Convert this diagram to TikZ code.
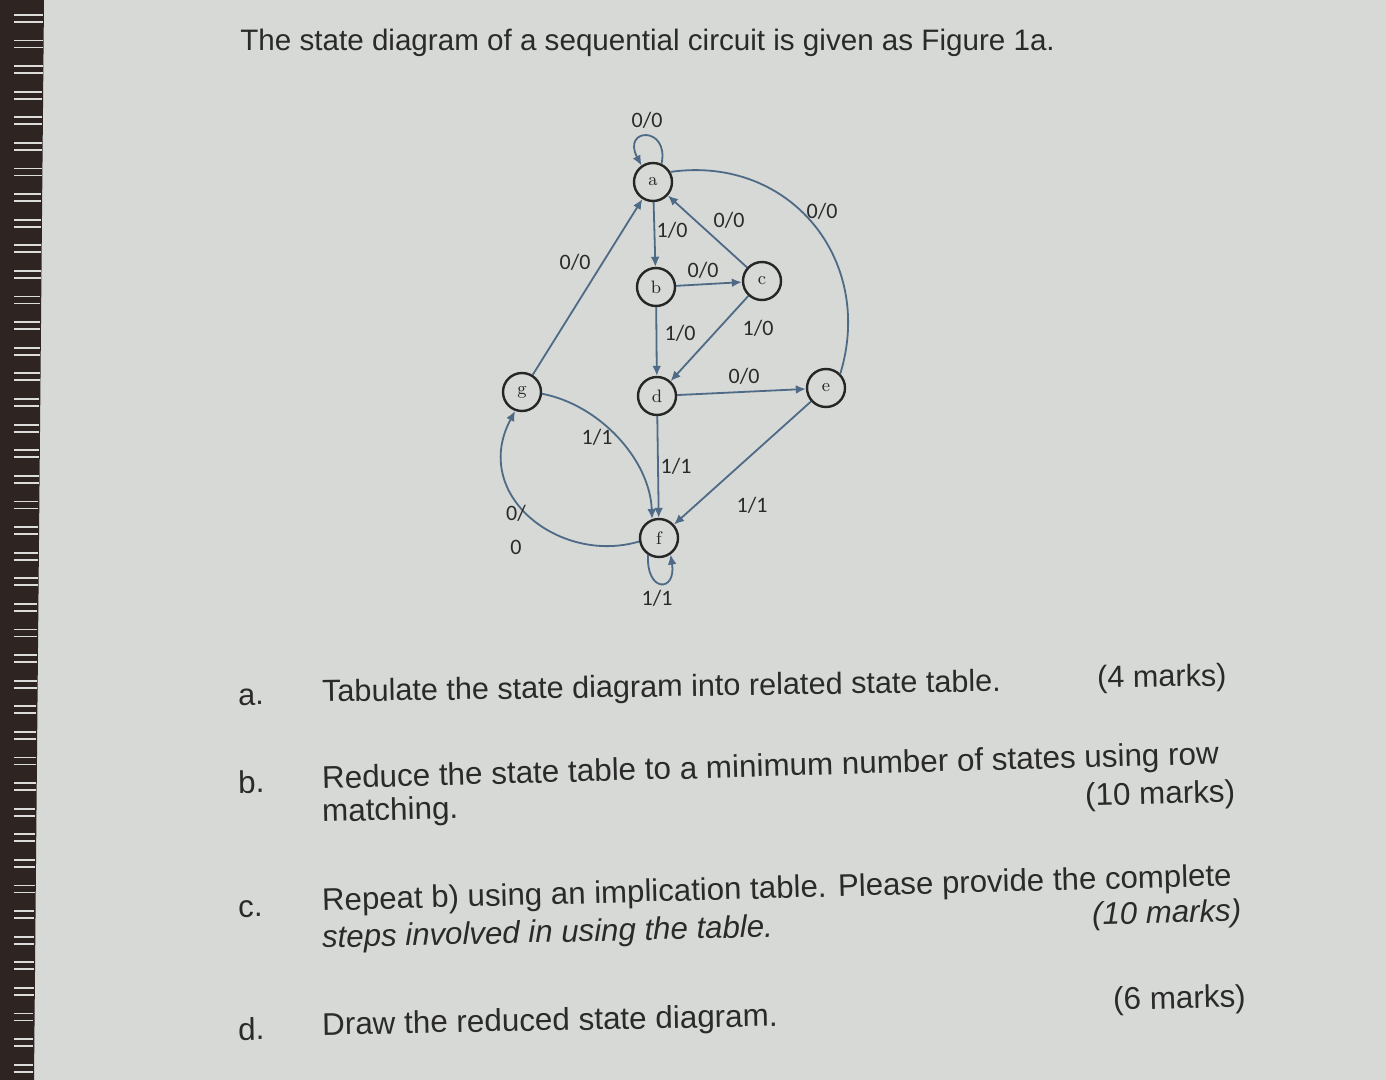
\documentclass[tikz,border=0pt]{standalone}
\usepackage{fontspec}
\usetikzlibrary{arrows.meta}
\newfontfamily\arialf{Liberation Sans}
\newfontfamily\carl{Carlito}
\definecolor{paper}{HTML}{D6D9D5}
\definecolor{bindc}{HTML}{2E2422}
\definecolor{ringc}{HTML}{DCDCDA}
\definecolor{linec}{HTML}{4E6A86}
\definecolor{circc}{HTML}{262626}
\definecolor{txtc}{HTML}{2A2A2A}
\tikzset{
  st/.style={circle,draw=circc,line width=1.2pt,minimum size=19pt,inner sep=0pt,
    font=\fontsize{9}{9}\selectfont,text=circc},
  tr/.style={draw=linec,line width=0.9pt,-{Latex[length=5pt,width=4.4pt]}},
  trn/.style={draw=linec,line width=0.9pt},
  lab/.style={font=\carl\fontsize{11}{13}\selectfont,text=txtc,inner sep=0pt},
  ttl/.style={font=\arialf\fontsize{14.8}{17}\selectfont,text=txtc,anchor=base west,inner sep=0pt},
  itm/.style={font=\arialf\fontsize{15.3}{18}\selectfont,text=txtc,anchor=base west,inner sep=0pt},
  itmb/.style={itm,font=\arialf\fontsize{15.7}{18}\selectfont},
  itmc/.style={itm,font=\arialf\fontsize{15.6}{18}\selectfont},
  itmi/.style={itm,font=\arialf\itshape\fontsize{15.6}{18}\selectfont},
}
\begin{document}
\begin{tikzpicture}[x=0.5pt,y=0.5pt]
\useasboundingbox (0,0) rectangle (1386,-1080);
\fill[paper] (0,0) rectangle (1386,-1080);
% binding
\fill[bindc] (0,0) -- (44,0) -- (34,-1080) -- (0,-1080) -- cycle;
\foreach \k in {0,...,41}{
  \pgfmathsetmacro{\yy}{-15-25.6*\k}
  \pgfmathsetmacro{\xe}{43-0.25*\k}
  \draw[ringc,line width=0.9pt] (14,\yy) -- (\xe,\yy);
  \draw[ringc,line width=0.9pt] (14,\yy-7) -- (\xe,\yy-7);
}
% title
\node[ttl] (title) at (240,-51) {The state diagram of a sequential circuit is given as Figure 1a.};
% states
\node[st] (a) at (653,-182) {a};
\node[st] (b) at (656,-287) {b};
\node[st] (c) at (762,-281) {c};
\node[st] (d) at (657,-396) {d};
\node[st] (e) at (826,-388) {e};
\node[st] (g) at (522,-392) {g};
\node[st] (f) at (659,-538) {f};
% transitions
\draw[tr] (a.65) .. controls +(8,38) and +(-20,38) .. (a.125);
\draw[tr] (g) -- (a);
\draw[tr] (a) -- (b);
\draw[tr] (c) -- (a);
\draw[trn] (a.30) .. controls (790,-155) and (875,-260) .. (e.45);
\draw[tr] (b) -- (c);
\draw[tr] (b) -- (d);
\draw[tr] (c) -- (d);
\draw[tr] (d) -- (e);
\draw[tr] (d) -- (f);
\draw[tr] (e) -- (f);
\draw[tr] (g.-5) .. controls (600,-405) and (650,-460) .. (f.110);
\draw[tr] (f.190) .. controls (560,-565) and (470,-495) .. (g.250);
\draw[tr] (f.237) .. controls +(-2,-38) and +(6,-38) .. (f.305);
% labels
\node[lab] (l1) at (647,-120) {0/0};
\node[lab] (l2) at (672,-230) {1/0};
\node[lab] (l3) at (729,-220) {0/0};
\node[lab] (l4) at (822,-211) {0/0};
\node[lab] (l5) at (575,-262) {0/0};
\node[lab] (l6) at (703,-270) {0/0};
\node[lab] (l7) at (680,-333) {1/0};
\node[lab] (l8) at (758,-328) {1/0};
\node[lab] (l9) at (744,-376) {0/0};
\node[lab] (l10) at (597,-437) {1/1};
\node[lab] (l11) at (676,-466) {1/1};
\node[lab] (l12) at (752,-505) {1/1};
\node[lab,align=center] (l13) at (516,-530) {0/\\[4pt]0};
\node[lab] (l14) at (657,-598) {1/1};
% questions
\node[itm,rotate=0.5] (qa) at (238,-705) {a.};
\node[itm,rotate=0.9] (ta) at (322,-702) {Tabulate the state diagram into related state table.};
\node[itm,rotate=1.0] (ma) at (1097,-688) {(4 marks)};
\node[itmb,rotate=0.8] (qb) at (238,-793) {b.};
\node[itmb,rotate=1.6] (tb) at (322,-789) {Reduce the state table to a minimum number of states using row};
\node[itmb,rotate=1.4] (tb2) at (322,-822) {matching.};
\node[itmb,rotate=1.5] (mb) at (1085,-806) {(10 marks)};
\node[itmc,rotate=0.8] (qc) at (238,-917) {c.};
\node[itmc,rotate=1.6] (tc) at (322,-911) {Repeat b) using an implication table. Please provide the complete};
\node[itmi,rotate=1.4] (tc2) at (322,-948) {steps involved in using the table.};
\node[itmi,rotate=1.5] (mc) at (1092,-925) {(10 marks)};
\node[itmb,rotate=0.8] (qd) at (238,-1040) {d.};
\node[itmb,rotate=1.1] (td) at (322,-1035) {Draw the reduced state diagram.};
\node[itmb,rotate=1.3] (md) at (1113,-1010) {(6 marks)};
\end{tikzpicture}
\end{document}
